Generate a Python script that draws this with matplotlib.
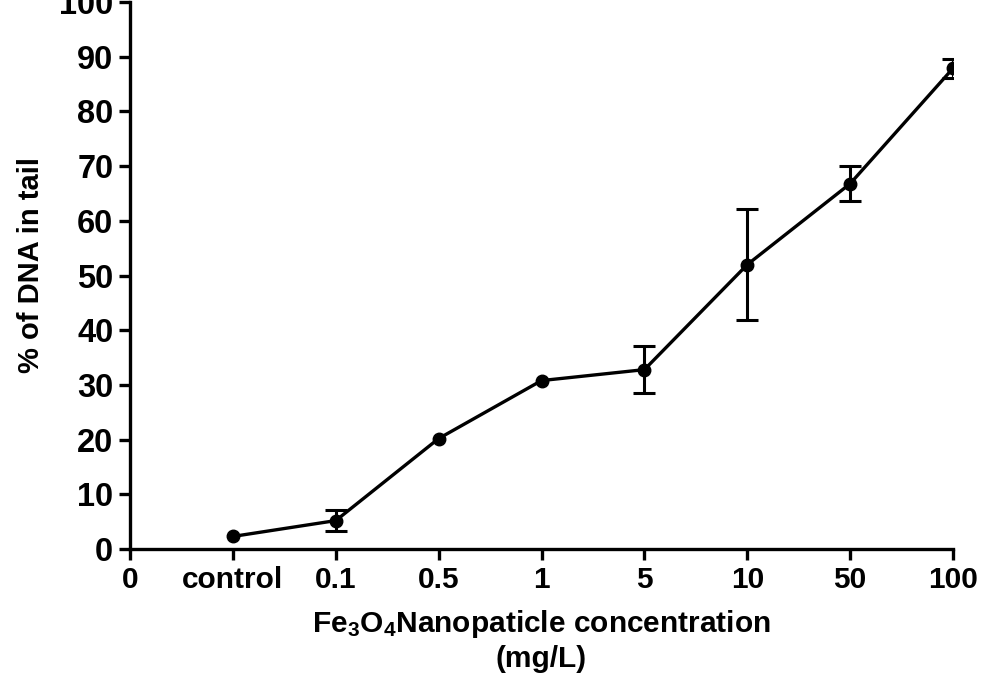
import matplotlib
matplotlib.use("Agg")
import matplotlib.pyplot as plt
import numpy as np

plt.rcParams["font.family"] = ["Liberation Sans", "DejaVu Sans"]
plt.rcParams["font.weight"] = "bold"
plt.rcParams["mathtext.fontset"] = "custom"
plt.rcParams["mathtext.rm"] = "Liberation Sans:bold"
plt.rcParams["mathtext.bf"] = "Liberation Sans:bold"
plt.rcParams["mathtext.default"] = "rm"

labels = ["0", "control", "0.1", "0.5", "1", "5", "10", "50", "100"]
tail_dna = [2.3, 5.2, 20.2, 30.8, 32.8, 52.0, 66.8, 87.9]
tail_err = [0.0, 1.9, 0.0, 0.0, 4.3, 10.2, 3.2, 1.7]

fig = plt.figure(figsize=(9.97, 6.92), dpi=100)
ax = fig.add_axes([0.1304, 0.2066, 0.8255, 0.7904])

x = np.arange(1, len(tail_dna) + 1)
y = np.array(tail_dna)
e = np.array(tail_err)
m = e > 0
ax.plot(x, y, color="black", lw=2.4, marker="o", markersize=9, zorder=3)
ax.errorbar(x[m], y[m], yerr=e[m], fmt="none", ecolor="black",
            capsize=8, capthick=2.2, elinewidth=2.2, zorder=2)

ax.set_xlim(0, 8)
ax.set_ylim(0, 100)
ax.set_xticks(np.arange(len(labels)))
ax.set_xticklabels(labels)
ax.set_yticks(np.arange(0, 101, 10))
ax.tick_params(axis="both", direction="out", length=8, width=2.4, pad=4)
ax.tick_params(axis="x", labelsize=21.5)
ax.tick_params(axis="y", labelsize=23.5)
for s in ["top", "right"]:
    ax.spines[s].set_visible(False)
for s in ["left", "bottom"]:
    ax.spines[s].set_linewidth(2.4)
for t in ax.get_xticklabels() + ax.get_yticklabels():
    t.set_fontweight("bold")

ax.set_ylabel("% of DNA in tail", fontsize=21, fontweight="bold")
ax.yaxis.set_label_coords(-0.103, 0.52)
ax.set_xlabel("Fe$_3$O$_4$Nanopaticle concentration\n(mg/L)", fontsize=21.5,
              fontweight="bold", labelpad=10, linespacing=1.25)

fig.savefig("out.png", dpi=100)
